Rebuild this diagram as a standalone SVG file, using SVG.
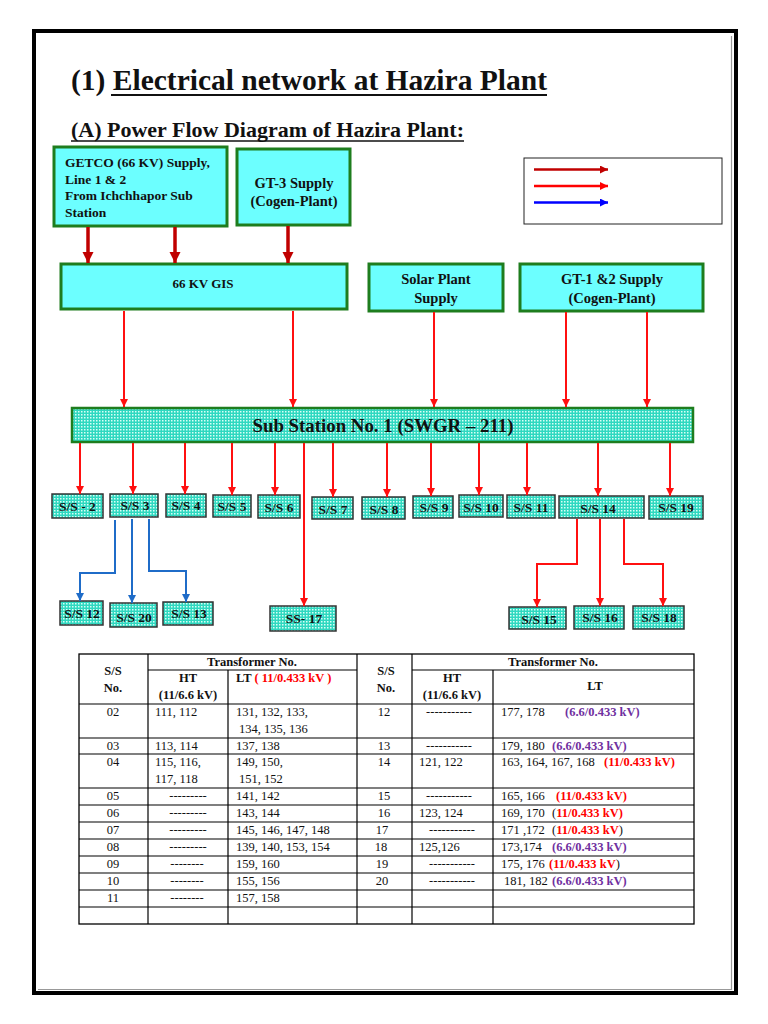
<svg xmlns="http://www.w3.org/2000/svg" width="768" height="1024" viewBox="0 0 768 1024">
<style>
.ser{font-family:"Liberation Serif","Times New Roman",serif;}
.b{font-weight:bold;}
.top{fill:#6cffff;stroke:#1e7d1e;stroke-width:3;}
.ss{fill:url(#dots);stroke:#333;stroke-width:1.5;}
.lbl{font-family:"Liberation Serif",serif;font-weight:bold;font-size:13.5px;fill:#111;text-anchor:middle;}
.bx{font-family:"Liberation Serif",serif;font-weight:bold;fill:#111;}
.red{stroke:#ff1010;stroke-width:2;fill:none;}
.dred{stroke:#c00000;stroke-width:3.5;fill:none;}
.blue{stroke:#1f6cc8;stroke-width:2;fill:none;}
.tl{stroke:#000;stroke-width:1.2;}
.td{font-family:"Liberation Serif",serif;font-size:12.5px;fill:#111;}
.th{font-family:"Liberation Serif",serif;font-size:12.5px;font-weight:bold;fill:#111;}
.c{text-anchor:middle;}
.rk{fill:#ff0000;font-weight:bold;}
.pk{fill:#7030a0;font-weight:bold;}
</style>
<defs>
<pattern id="dots" width="3" height="3" patternUnits="userSpaceOnUse">
<rect width="3" height="3" fill="#2fd8c0"/>
<rect x="0" y="0" width="1.5" height="1.5" fill="#d8fff6"/>
</pattern>
<marker id="ar" viewBox="0 0 10 10" refX="10" refY="5" markerWidth="8" markerHeight="9" markerUnits="userSpaceOnUse" orient="auto"><path d="M0,0 L10,5 L0,10 z" fill="#ff1010"/></marker>
<marker id="adr" viewBox="0 0 10 10" refX="10" refY="5" markerWidth="11" markerHeight="12" markerUnits="userSpaceOnUse" orient="auto"><path d="M0,0 L10,5 L0,10 z" fill="#c00000"/></marker>
<marker id="ab" viewBox="0 0 10 10" refX="10" refY="5" markerWidth="8" markerHeight="9" markerUnits="userSpaceOnUse" orient="auto"><path d="M0,0 L10,5 L0,10 z" fill="#1f6cc8"/></marker>
<marker id="al1" viewBox="0 0 10 10" refX="10" refY="5" markerWidth="10" markerHeight="8" markerUnits="userSpaceOnUse" orient="auto"><path d="M0,0 L10,5 L0,10 z" fill="#c00000"/></marker>
<marker id="al2" viewBox="0 0 10 10" refX="10" refY="5" markerWidth="10" markerHeight="8" markerUnits="userSpaceOnUse" orient="auto"><path d="M0,0 L10,5 L0,10 z" fill="#ff0000"/></marker>
<marker id="al3" viewBox="0 0 10 10" refX="10" refY="5" markerWidth="10" markerHeight="8" markerUnits="userSpaceOnUse" orient="auto"><path d="M0,0 L10,5 L0,10 z" fill="#0000ff"/></marker>
</defs>
<rect width="768" height="1024" fill="#fff"/>
<!-- frame -->
<rect x="34" y="31" width="702" height="962" fill="none" stroke="#000" stroke-width="4"/>
<polyline points="731.5,36 731.5,989.5 38,989.5" fill="none" stroke="#999" stroke-width="1.2"/>
<!-- titles -->
<text class="ser b" x="71" y="90" font-size="29" textLength="476" lengthAdjust="spacingAndGlyphs" fill="#111">(1) Electrical network at Hazira Plant</text>
<line x1="111" y1="95" x2="547" y2="95" stroke="#111" stroke-width="2"/>
<text class="ser b" x="71" y="137" font-size="21" textLength="393" lengthAdjust="spacingAndGlyphs" fill="#111">(A)  Power Flow Diagram of Hazira Plant:</text>
<line x1="71" y1="141" x2="464" y2="141" stroke="#111" stroke-width="1.5"/>
<!-- legend -->
<g id="legend">
<rect x="524" y="158" width="198" height="66" fill="#fff" stroke="#222" stroke-width="1"/>
<line x1="534" y1="169.5" x2="608" y2="169.5" stroke="#c00000" stroke-width="2.5" marker-end="url(#al1)"/>
<line x1="534" y1="186" x2="608" y2="186" stroke="#ff0000" stroke-width="2.5" marker-end="url(#al2)"/>
<line x1="534" y1="202.5" x2="608" y2="202.5" stroke="#0000ff" stroke-width="2.5" marker-end="url(#al3)"/>
</g>
<!-- top nodes -->
<g id="getco"><rect class="top" x="54" y="147" width="173" height="79"/>
<text class="bx" font-size="13.5" x="65" y="167">GETCO (66 KV) Supply,</text>
<text class="bx" font-size="13.5" x="65" y="184">Line 1 &amp; 2</text>
<text class="bx" font-size="13.5" x="65" y="200">From Ichchhapor Sub</text>
<text class="bx" font-size="13.5" x="65" y="217">Station</text></g>
<g id="gt3"><rect class="top" x="237" y="149" width="113" height="76"/>
<text class="bx c" font-size="14.5" x="294" y="188">GT-3 Supply</text>
<text class="bx c" font-size="14.5" x="294" y="206">(Cogen-Plant)</text></g>
<g id="gis"><rect class="top" x="61" y="264" width="286" height="45"/>
<text class="bx c" font-size="13" x="203" y="288">66 KV GIS</text></g>
<g id="solar"><rect class="top" x="369" y="264" width="134" height="47"/>
<text class="bx c" font-size="14.5" x="436" y="284">Solar Plant</text>
<text class="bx c" font-size="14.5" x="436" y="303">Supply</text></g>
<g id="gt12"><rect class="top" x="520" y="264" width="183" height="47"/>
<text class="bx c" font-size="14.5" x="612" y="284">GT-1 &amp;2 Supply</text>
<text class="bx c" font-size="14.5" x="612" y="303">(Cogen-Plant)</text></g>
<!-- substation bar -->
<g id="ss1"><rect x="72" y="408" width="621" height="34" fill="url(#dots)" stroke="#1e7d1e" stroke-width="2.5"/>
<text class="bx c" font-size="18.5" x="383" y="432" textLength="261" lengthAdjust="spacingAndGlyphs">Sub Station No. 1 (SWGR – 211)</text></g>
<!-- S/S nodes -->
<g id="ss2"><rect class="ss" x="52" y="494" width="51" height="24"/><text class="lbl" x="77.5" y="511">S/S - 2</text></g>
<g id="ss3"><rect class="ss" x="110" y="494" width="48" height="23"/><text class="lbl" x="135" y="510">S/S 3</text></g>
<g id="ss4"><rect class="ss" x="166" y="494" width="40" height="23"/><text class="lbl" x="186" y="510">S/S 4</text></g>
<g id="ss5"><rect class="ss" x="213" y="495" width="38" height="22"/><text class="lbl" x="232" y="511">S/S 5</text></g>
<g id="ss6"><rect class="ss" x="258" y="495" width="42" height="23"/><text class="lbl" x="279" y="512">S/S 6</text></g>
<g id="ss7"><rect class="ss" x="312" y="497" width="41" height="22"/><text class="lbl" x="333" y="514">S/S 7</text></g>
<g id="ss8"><rect class="ss" x="362" y="497" width="43" height="22"/><text class="lbl" x="384" y="514">S/S 8</text></g>
<g id="ss9"><rect class="ss" x="413" y="496" width="40" height="22"/><text class="lbl" x="434" y="512">S/S 9</text></g>
<g id="ss10"><rect class="ss" x="459" y="495" width="44" height="22"/><text class="lbl" x="481" y="512">S/S 10</text></g>
<g id="ss11"><rect class="ss" x="507" y="495" width="48" height="23"/><text class="lbl" x="531" y="512">S/S 11</text></g>
<g id="ss14"><rect class="ss" x="559" y="496" width="85" height="22"/><text class="lbl" x="598" y="513">S/S 14</text></g>
<g id="ss19"><rect class="ss" x="649" y="496" width="54" height="23"/><text class="lbl" x="676" y="512">S/S 19</text></g>
<g id="ss12"><rect class="ss" x="60" y="601" width="43" height="24"/><text class="lbl" x="82" y="618">S/S 12</text></g>
<g id="ss20"><rect class="ss" x="110" y="603" width="47" height="24"/><text class="lbl" x="134" y="622">S/S 20</text></g>
<g id="ss13"><rect class="ss" x="163" y="602" width="50" height="23"/><text class="lbl" x="189" y="618">S/S 13</text></g>
<g id="ss17"><rect class="ss" x="270" y="606" width="66" height="25"/><text class="lbl" x="304" y="623">SS- 17</text></g>
<g id="ss15"><rect class="ss" x="509" y="607" width="57" height="22"/><text class="lbl" x="539" y="624">S/S 15</text></g>
<g id="ss16"><rect class="ss" x="574" y="606" width="50" height="23"/><text class="lbl" x="600" y="622">S/S 16</text></g>
<g id="ss18"><rect class="ss" x="633" y="606" width="51" height="23"/><text class="lbl" x="659" y="622">S/S 18</text></g>
<!-- connectors -->
<g id="connectors">
<line class="dred" x1="88" y1="227" x2="88" y2="263" marker-end="url(#adr)"/>
<line class="dred" x1="175" y1="227" x2="175" y2="263" marker-end="url(#adr)"/>
<line class="dred" x1="288" y1="226" x2="288" y2="263" marker-end="url(#adr)"/>
<line class="red" x1="124" y1="311" x2="124" y2="407" marker-end="url(#ar)"/>
<line class="red" x1="293" y1="311" x2="293" y2="407" marker-end="url(#ar)"/>
<line class="red" x1="434" y1="312" x2="434" y2="407" marker-end="url(#ar)"/>
<line class="red" x1="566" y1="312" x2="566" y2="407" marker-end="url(#ar)"/>
<line class="red" x1="647" y1="312" x2="647" y2="407" marker-end="url(#ar)"/>
<line class="red" x1="80" y1="443" x2="80" y2="494" marker-end="url(#ar)"/>
<line class="red" x1="133" y1="443" x2="133" y2="494" marker-end="url(#ar)"/>
<line class="red" x1="185" y1="443" x2="185" y2="494" marker-end="url(#ar)"/>
<line class="red" x1="232" y1="443" x2="232" y2="495" marker-end="url(#ar)"/>
<line class="red" x1="275" y1="443" x2="275" y2="495" marker-end="url(#ar)"/>
<line class="red" x1="333" y1="443" x2="333" y2="497" marker-end="url(#ar)"/>
<line class="red" x1="387" y1="443" x2="387" y2="497" marker-end="url(#ar)"/>
<line class="red" x1="431" y1="443" x2="431" y2="496" marker-end="url(#ar)"/>
<line class="red" x1="479" y1="443" x2="479" y2="495" marker-end="url(#ar)"/>
<line class="red" x1="527" y1="443" x2="527" y2="495" marker-end="url(#ar)"/>
<line class="red" x1="598" y1="443" x2="598" y2="496" marker-end="url(#ar)"/>
<line class="red" x1="670" y1="443" x2="670" y2="496" marker-end="url(#ar)"/>
<line class="red" x1="304" y1="443" x2="304" y2="606" marker-end="url(#ar)"/>
<polyline class="blue" points="115,520 115,573 80,573 80,601" marker-end="url(#ab)"/>
<line class="blue" x1="132" y1="519" x2="132" y2="603" marker-end="url(#ab)"/>
<polyline class="blue" points="149,519 149,571 186,571 186,602" marker-end="url(#ab)"/>
<polyline class="red" points="577,519 577,564 537,564 537,607" marker-end="url(#ar)"/>
<line class="red" x1="600" y1="519" x2="600" y2="606" marker-end="url(#ar)"/>
<polyline class="red" points="624,519 624,564 663,564 663,606" marker-end="url(#ar)"/>
</g>
<!-- table -->
<g id="table">
<rect x="79" y="654" width="615" height="270" fill="#fff" stroke="#000" stroke-width="1.3"/>
<line class="tl" x1="148" y1="654" x2="148" y2="924"/>
<line class="tl" x1="228" y1="670" x2="228" y2="924"/>
<line class="tl" x1="357" y1="654" x2="357" y2="924"/>
<line class="tl" x1="412" y1="654" x2="412" y2="924"/>
<line class="tl" x1="493" y1="670" x2="493" y2="924"/>
<line class="tl" x1="148" y1="670" x2="357" y2="670"/>
<line class="tl" x1="412" y1="670" x2="694" y2="670"/>
<line class="tl" x1="79" y1="704" x2="694" y2="704"/>
<line class="tl" x1="79" y1="738" x2="694" y2="738"/>
<line class="tl" x1="79" y1="754" x2="694" y2="754"/>
<line class="tl" x1="79" y1="788" x2="694" y2="788"/>
<line class="tl" x1="79" y1="805" x2="694" y2="805"/>
<line class="tl" x1="79" y1="822" x2="694" y2="822"/>
<line class="tl" x1="79" y1="839" x2="694" y2="839"/>
<line class="tl" x1="79" y1="856" x2="694" y2="856"/>
<line class="tl" x1="79" y1="873" x2="694" y2="873"/>
<line class="tl" x1="79" y1="890" x2="694" y2="890"/>
<line class="tl" x1="79" y1="907" x2="694" y2="907"/>
<!-- headers -->
<text class="th c" x="113" y="675">S/S</text>
<text class="th c" x="113" y="692">No.</text>
<text class="th c" x="252" y="666">Transformer No.</text>
<text class="th c" x="188" y="682">HT</text>
<text class="th c" x="188" y="699">(11/6.6 kV)</text>
<text class="th" x="236" y="682">LT <tspan fill="#ff0000"> ( 11/0.433 kV )</tspan></text>
<text class="th c" x="386" y="675">S/S</text>
<text class="th c" x="386" y="692">No.</text>
<text class="th c" x="553" y="666">Transformer No.</text>
<text class="th c" x="452" y="682">HT</text>
<text class="th c" x="452" y="699">(11/6.6 kV)</text>
<text class="th c" x="595" y="690">LT</text>
<!-- left rows -->
<text class="td c" x="113" y="716">02</text><text class="td" x="155" y="716">111, 112</text><text class="td" x="236" y="716">131, 132, 133,</text><text class="td" x="239" y="733">134, 135, 136</text>
<text class="td c" x="113" y="750">03</text><text class="td" x="155" y="750">113, 114</text><text class="td" x="236" y="750">137, 138</text>
<text class="td c" x="113" y="766">04</text><text class="td" x="155" y="766">115, 116,</text><text class="td" x="155" y="783">117, 118</text><text class="td" x="236" y="766">149, 150,</text><text class="td" x="239" y="783">151, 152</text>
<text class="td c" x="113" y="800">05</text><text class="td c" x="188" y="800">---------</text><text class="td" x="236" y="800">141, 142</text>
<text class="td c" x="113" y="817">06</text><text class="td c" x="188" y="817">---------</text><text class="td" x="236" y="817">143, 144</text>
<text class="td c" x="113" y="834">07</text><text class="td c" x="188" y="834">---------</text><text class="td" x="236" y="834">145, 146, 147, 148</text>
<text class="td c" x="113" y="851">08</text><text class="td c" x="188" y="851">---------</text><text class="td" x="236" y="851">139, 140, 153, 154</text>
<text class="td c" x="113" y="868">09</text><text class="td c" x="187" y="868">--------</text><text class="td" x="236" y="868">159, 160</text>
<text class="td c" x="113" y="885">10</text><text class="td c" x="187" y="885">--------</text><text class="td" x="236" y="885">155, 156</text>
<text class="td c" x="113" y="902">11</text><text class="td c" x="187" y="902">--------</text><text class="td" x="236" y="902">157, 158</text>
<!-- right rows -->
<text class="td c" x="384" y="716">12</text><text class="td c" x="449" y="716">-----------</text><text class="td" x="501" y="716">177, 178 <tspan class="pk" x="565">(6.6/0.433 kV)</tspan></text>
<text class="td c" x="384" y="750">13</text><text class="td c" x="449" y="750">-----------</text><text class="td" x="501" y="750">179, 180 <tspan class="pk" x="552">(6.6/0.433 kV)</tspan></text>
<text class="td c" x="384" y="766">14</text><text class="td" x="419" y="766">121, 122</text><text class="td" x="501" y="766">163, 164, 167, 168 <tspan class="rk" x="604">(11/0.433 kV)</tspan></text>
<text class="td c" x="384" y="800">15</text><text class="td c" x="449" y="800">-----------</text><text class="td" x="501" y="800">165, 166 <tspan class="rk" x="556">(11/0.433 kV)</tspan></text>
<text class="td c" x="384" y="817">16</text><text class="td" x="419" y="817">123, 124</text><text class="td" x="501" y="817">169, 170 <tspan x="552">(</tspan><tspan class="rk">11/0.433 kV)</tspan></text>
<text class="td c" x="382" y="834">17</text><text class="td c" x="452" y="834">-----------</text><text class="td" x="501" y="834">171 ,172 <tspan x="552">(</tspan><tspan class="rk">11/0.433 kV</tspan>)</text>
<text class="td c" x="381" y="851">18</text><text class="td" x="419" y="851">125,126</text><text class="td" x="501" y="851">173,174 <tspan class="pk" x="552">(6.6/0.433 kV)</tspan></text>
<text class="td c" x="382" y="868">19</text><text class="td c" x="452" y="868">-----------</text><text class="td" x="501" y="868">175, 176 <tspan class="rk" x="549">(11/0.433 kV</tspan>)</text>
<text class="td c" x="382" y="885">20</text><text class="td c" x="452" y="885">-----------</text><text class="td" x="504" y="885">181, 182 <tspan class="pk" x="552">(6.6/0.433 kV)</tspan></text>
</g>
</svg>
